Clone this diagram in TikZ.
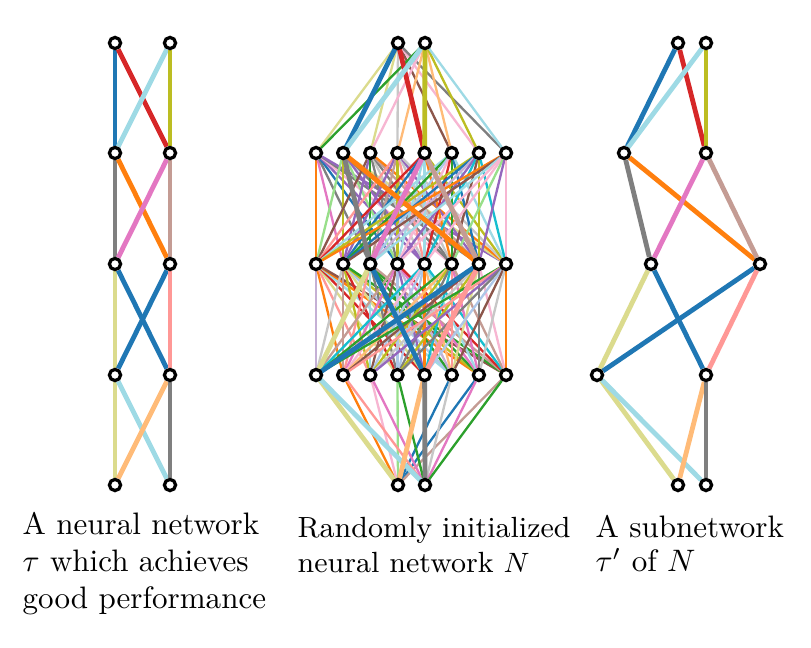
\documentclass[tikz,border=0pt]{standalone}
\usetikzlibrary{positioning}
\pgfdeclarelayer{background}
\pgfsetlayers{background,main}

\definecolor{tabblue}{HTML}{1F77B4}
\definecolor{tablightblue}{HTML}{AEC7E8}
\definecolor{taborange}{HTML}{FF7F0E}
\definecolor{tablightorange}{HTML}{FFBB78}
\definecolor{tabgreen}{HTML}{2CA02C}
\definecolor{tablightgreen}{HTML}{98DF8A}
\definecolor{tabred}{HTML}{D62728}
\definecolor{tablightred}{HTML}{FF9896}
\definecolor{tabpurple}{HTML}{9467BD}
\definecolor{tablightpurple}{HTML}{C5B0D5}
\definecolor{tabbrown}{HTML}{8C564B}
\definecolor{tablightbrown}{HTML}{C49C94}
\definecolor{tabpink}{HTML}{E377C2}
\definecolor{tablightpink}{HTML}{F7B6D2}
\definecolor{tabgray}{HTML}{7F7F7F}
\definecolor{tablightgray}{HTML}{C7C7C7}
\definecolor{tabolive}{HTML}{BCBD22}
\definecolor{tablightolive}{HTML}{DBDB8D}
\definecolor{tabcyan}{HTML}{17BECF}
\definecolor{tablightcyan}{HTML}{9EDAE5}
\foreach \c [count=\i] in {tabblue,tablightblue,taborange,tablightorange,tabgreen,tablightgreen,tabred,tablightred,tabpurple,tablightpurple,tabbrown,tablightbrown,tabpink,tablightpink,tabgray,tablightgray,tabolive,tablightolive,tabcyan,tablightcyan}
	{\xglobal\colorlet{rc\i}{\c}}

\begin{document}
\begin{tikzpicture}[x=0.322pt,y=-0.322pt,
	neuron/.style={circle,draw,line width=1.05pt,fill=white,inner sep=0pt,minimum size=3.6pt},
	weak/.style={line width=0.75pt},
	strong/.style={line width=1.55pt},
	caption/.style={anchor=north west,align=left,inner sep=0pt,font=\fontsize{10pt}{11.8pt}\selectfont}]
	\useasboundingbox (0,0) rectangle (811,647);

	% the network tau (left)
	\foreach \l/\y in {1/43,2/153,3/264,4/375,5/485} {
		\node[neuron] (L-\l-1) at (115,\y) {};
		\node[neuron] (L-\l-2) at (170,\y) {};
	}
	% the random network N (middle)
	\foreach \l/\y in {1/43,5/485} {
		\node[neuron] (N-\l-1) at (398,\y) {};
		\node[neuron] (N-\l-2) at (425,\y) {};
	}
	\foreach \l/\y in {2/153,3/264,4/375}
		\foreach \k in {1,...,8}
			\node[neuron] (N-\l-\k) at ({316+27.15*(\k-1)},\y) {};
	\foreach \l/\a/\k in {1/1/1,1/2/2,2/1/2,2/2/5,3/1/3,3/2/7,4/1/1,4/2/5,5/1/1,5/2/2}
		\coordinate (M-\l-\a) at (N-\l-\k);
	% the subnetwork tau' (right)
	\node[neuron] (S-1-1) at (678,43) {};
	\node[neuron] (S-1-2) at (706,43) {};
	\node[neuron] (S-2-1) at (624,153) {};
	\node[neuron] (S-2-2) at (706,153) {};
	\node[neuron] (S-3-1) at (651,264) {};
	\node[neuron] (S-3-2) at (760,264) {};
	\node[neuron] (S-4-1) at (597,375) {};
	\node[neuron] (S-4-2) at (706,375) {};
	\node[neuron] (S-5-1) at (678,485) {};
	\node[neuron] (S-5-2) at (706,485) {};

	\begin{pgfonlayer}{background}
		\pgfmathsetseed{17}
		\foreach \i in {1,2}
			\foreach \j in {1,...,8} {
				\pgfmathrandominteger{\c}{1}{20}
				\draw[weak,color=rc\c] (N-1-\i) -- (N-2-\j);
				\pgfmathrandominteger{\c}{1}{20}
				\draw[weak,color=rc\c] (N-4-\j) -- (N-5-\i);
			}
		\foreach \l/\m in {2/3,3/4}
			\foreach \i in {1,...,8}
				\foreach \j in {1,...,8} {
					\pgfmathrandominteger{\c}{1}{20}
					\draw[weak,color=rc\c] (N-\l-\i) -- (N-\m-\j);
				}
		\foreach \l/\a/\b/\col in {1/1/1/tabblue,1/1/2/tabred,1/2/1/tablightcyan,1/2/2/tabolive,
			2/1/1/tabgray,2/1/2/taborange,2/2/1/tabpink,2/2/2/tablightbrown,
			3/1/1/tablightolive,3/1/2/tabblue,3/2/1/tabblue,3/2/2/tablightred,
			4/1/1/tablightolive,4/1/2/tablightcyan,4/2/1/tablightorange,4/2/2/tabgray} {
			\pgfmathtruncatemacro\m{\l+1}
			\draw[strong,color=\col] (L-\l-\a) -- (L-\m-\b);
			\draw[strong,color=\col] (M-\l-\a) -- (M-\m-\b);
			\draw[strong,color=\col] (S-\l-\a) -- (S-\m-\b);
		}
	\end{pgfonlayer}

	\node[caption] (capL) at (22,512) {A neural network\\$\tau$ which achieves\\good performance};
	\node[caption,font=\fontsize{9.4pt}{11.3pt}\selectfont] (capN) at (297,516.5) {Randomly initialized\\neural network $N$};
	\node[caption,font=\fontsize{10pt}{11pt}\selectfont] (capS) at (595,514.5) {A subnetwork\\$\tau'$ of $N$};
\end{tikzpicture}
\end{document}
